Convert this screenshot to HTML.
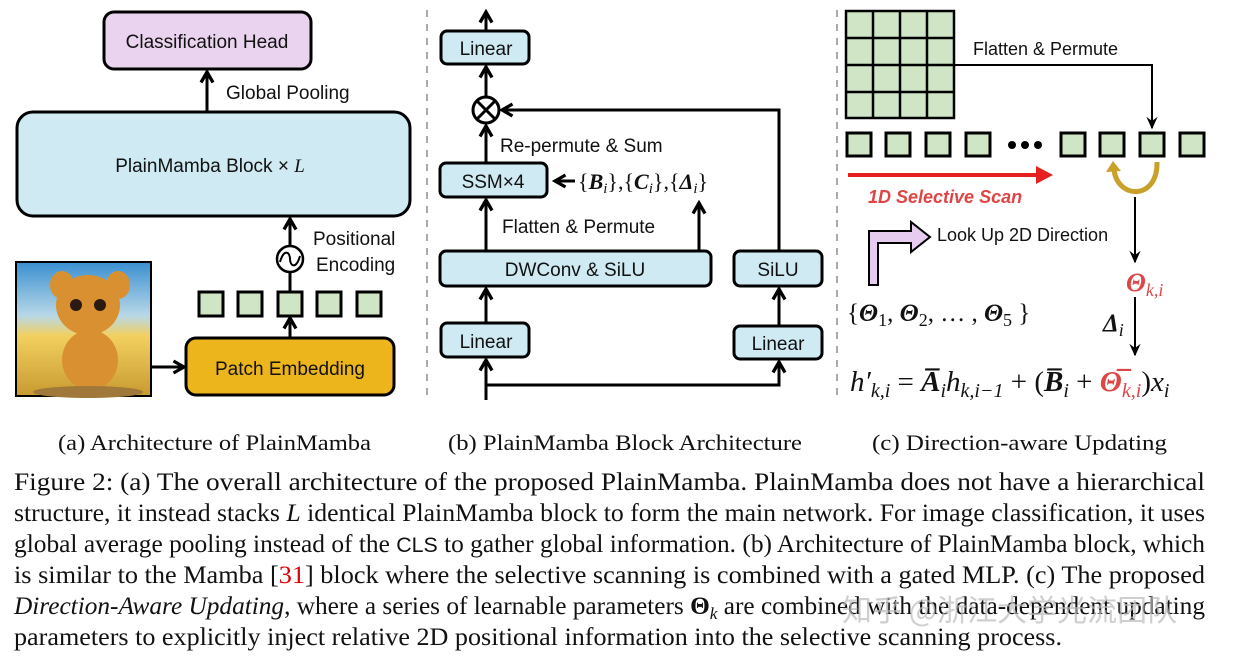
<!DOCTYPE html>
<html><head><meta charset="utf-8"><style>
html,body{margin:0;padding:0;background:#fff;width:1249px;height:660px;overflow:hidden}
svg{display:block}
.s{font-family:"Liberation Sans","DejaVu Sans",sans-serif;fill:#111}
.r{font-family:"Liberation Serif",serif;fill:#111}
</style></head><body>
<svg width="1249" height="660" viewBox="0 0 1249 660" xmlns="http://www.w3.org/2000/svg">
<defs>
<marker id="ah" viewBox="0 0 10 10" refX="8" refY="5" markerWidth="5" markerHeight="5" orient="auto"><path d="M1,1 L8,5 L1,9" fill="none" stroke="#000" stroke-width="2.2"/></marker>
<marker id="ah2" viewBox="0 0 10 10" refX="8" refY="5" markerWidth="7" markerHeight="7" orient="auto"><path d="M0,1 L9,5 L0,9 L3,5z" fill="#000"/></marker>
<linearGradient id="sky" x1="0" y1="0" x2="0" y2="1"><stop offset="0" stop-color="#3a8fd0"/><stop offset="0.4" stop-color="#b8d8e8"/><stop offset="0.55" stop-color="#f2d060"/><stop offset="1" stop-color="#c89a30"/></linearGradient>
</defs>
<g stroke="#aaa" stroke-width="2" stroke-dasharray="7,7"><line x1="427" y1="10" x2="427" y2="400"/><line x1="837" y1="10" x2="837" y2="400"/></g>

<!-- panel a -->
<g stroke="#000" stroke-width="3">
<rect x="104" y="12" width="207" height="57" rx="10" fill="#e9d3ef"/>
<rect x="17" y="112" width="393" height="104" rx="16" fill="#cfeaf3"/>
<rect x="186" y="338" width="208" height="57" rx="10" fill="#ecb51c"/>
<rect x="16" y="262" width="135" height="134" fill="url(#sky)" stroke-width="2"/>
</g>
<g fill="#d99030"><ellipse cx="88" cy="305" rx="32" ry="30"/><ellipse cx="62" cy="285" rx="12" ry="14"/><ellipse cx="118" cy="285" rx="12" ry="14"/><ellipse cx="90" cy="360" rx="28" ry="30"/></g>
<ellipse cx="88" cy="392" rx="55" ry="6" fill="#a0783a"/>
<circle cx="76" cy="305" r="6" fill="#2a1a10"/><circle cx="100" cy="305" r="6" fill="#2a1a10"/>
<g stroke="#000" stroke-width="3" fill="none">
<line x1="207" y1="111" x2="207" y2="72" marker-end="url(#ah)"/>
<line x1="290" y1="292" x2="290" y2="219" marker-end="url(#ah)"/>
<line x1="290" y1="338" x2="290" y2="318" marker-end="url(#ah)"/>
<line x1="151" y1="367" x2="184" y2="367" marker-end="url(#ah)"/>
<circle cx="290" cy="259" r="13" fill="#fff" stroke-width="2.5"/>
<path d="M280,262 C284,248 290,252 290,259 C290,266 296,270 300,256" stroke-width="2"/>
</g>
<g fill="#cfe5c6" stroke="#000" stroke-width="3">
<rect x="199" y="292" width="24" height="24"/><rect x="238" y="292" width="24" height="24"/><rect x="278" y="292" width="24" height="24"/><rect x="317" y="292" width="24" height="24"/><rect x="357" y="292" width="24" height="24"/>
</g>
<text class="s" x="207" y="48" font-size="19" text-anchor="middle">Classification Head</text>
<text class="s" x="226" y="99" font-size="19">Global Pooling</text>
<text class="s" x="210" y="172" font-size="19" text-anchor="middle">PlainMamba Block × <tspan font-family="Liberation Serif" font-style="italic">L</tspan></text>
<text class="s" x="313" y="245" font-size="19">Positional</text>
<text class="s" x="316" y="271" font-size="19">Encoding</text>
<text class="s" x="290" y="375" font-size="19" text-anchor="middle">Patch Embedding</text>

<!-- panel b -->
<g stroke="#000" stroke-width="3" fill="#cfeaf3">
<rect x="441" y="31" width="88" height="33" rx="6"/>
<rect x="440" y="163" width="107" height="34" rx="6"/>
<rect x="440" y="251" width="271" height="35" rx="6"/>
<rect x="441" y="323" width="88" height="34" rx="6"/>
<rect x="734" y="251" width="88" height="35" rx="6"/>
<rect x="734" y="326" width="88" height="33" rx="6"/>
</g>
<g stroke="#000" stroke-width="3" fill="none">
<line x1="486" y1="30" x2="486" y2="12" marker-end="url(#ah)"/>
<line x1="486" y1="97" x2="486" y2="67" marker-end="url(#ah)"/>
<circle cx="486" cy="110" r="13" fill="#fff"/>
<line x1="477" y1="101" x2="495" y2="119"/><line x1="495" y1="101" x2="477" y2="119"/>
<polyline points="779,250 779,110 502,110" marker-end="url(#ah)"/>
<line x1="486" y1="163" x2="486" y2="126" marker-end="url(#ah)"/>
<line x1="486" y1="250" x2="486" y2="200" marker-end="url(#ah)"/>
<line x1="699" y1="250" x2="699" y2="203" marker-end="url(#ah)"/>
<line x1="575" y1="181" x2="555" y2="181" marker-end="url(#ah)"/>
<line x1="486" y1="322" x2="486" y2="289" marker-end="url(#ah)"/>
<line x1="779" y1="325" x2="779" y2="289" marker-end="url(#ah)"/>
<line x1="486" y1="400" x2="486" y2="360" marker-end="url(#ah)"/>
<polyline points="486,385 779,385 779,362" marker-end="url(#ah)"/>
</g>
<text class="s" x="486" y="55" font-size="19" text-anchor="middle">Linear</text>
<text class="s" x="500" y="152" font-size="19">Re-permute &amp; Sum</text>
<text class="s" x="493" y="188" font-size="19" text-anchor="middle">SSM×4</text>
<text class="r" x="578" y="189" font-size="22">{<tspan font-weight="bold" font-style="italic">B</tspan><tspan font-style="italic" font-size="15" dy="4">i</tspan><tspan dy="-4">},{</tspan><tspan font-weight="bold" font-style="italic">C</tspan><tspan font-style="italic" font-size="15" dy="4">i</tspan><tspan dy="-4">},{</tspan><tspan font-weight="bold" font-style="italic">Δ</tspan><tspan font-style="italic" font-size="15" dy="4">i</tspan><tspan dy="-4">}</tspan></text>
<text class="s" x="502" y="233" font-size="19">Flatten &amp; Permute</text>
<text class="s" x="575" y="276" font-size="19" text-anchor="middle">DWConv &amp; SiLU</text>
<text class="s" x="486" y="348" font-size="19" text-anchor="middle">Linear</text>
<text class="s" x="778" y="276" font-size="19" text-anchor="middle">SiLU</text>
<text class="s" x="778" y="350" font-size="19" text-anchor="middle">Linear</text>

<!-- panel c -->
<g fill="#cfe5c6" stroke="#000" stroke-width="2.5">
<rect x="846" y="11" width="108" height="107"/>
<path d="M873,11V118M900,11V118M927,11V118M846,38H954M846,65H954M846,92H954" fill="none"/>
</g>
<g fill="#cfe5c6" stroke="#000" stroke-width="3">
<rect x="847" y="133" width="24" height="23"/><rect x="886" y="133" width="24" height="23"/><rect x="926" y="133" width="24" height="23"/><rect x="966" y="133" width="24" height="23"/>
<rect x="1061" y="133" width="24" height="23"/><rect x="1100" y="133" width="24" height="23"/><rect x="1140" y="133" width="24" height="23"/><rect x="1180" y="133" width="24" height="23"/>
</g>
<circle cx="1012" cy="145" r="4"/><circle cx="1025" cy="145" r="4"/><circle cx="1038" cy="145" r="4"/>
<g stroke="#000" stroke-width="2" fill="none">
<polyline points="955,65 1152,65 1152,128" marker-end="url(#ah2)"/>
<line x1="1135" y1="197" x2="1135" y2="262" marker-end="url(#ah2)"/>
<line x1="1135" y1="297" x2="1135" y2="355" marker-end="url(#ah2)"/>
</g>
<line x1="848" y1="175" x2="1040" y2="175" stroke="#e62020" stroke-width="4"/>
<path d="M1036,166 L1053,175 L1036,184z" fill="#e62020"/>
<path d="M1157,162 C1158,200 1118,200 1114,170" fill="none" stroke="#c9a02a" stroke-width="5"/>
<path d="M1106,172 L1113,161 L1121,171z" fill="#c9a02a"/>
<path d="M869,285 V231 H911 V222 L930,237 L911,252 V243 H878 V285z" fill="#e6cdef" stroke="#000" stroke-width="2"/>
<text class="s" x="973" y="55" font-size="18">Flatten &amp; Permute</text>
<text x="868" y="203" font-size="18" font-weight="bold" font-style="italic" fill="#e04545" font-family="Liberation Sans,sans-serif">1D Selective Scan</text>
<text class="s" x="937" y="241" font-size="18">Look Up 2D Direction</text>
<text x="1126" y="291" font-size="26" font-family="Liberation Serif,serif" fill="#e04545"><tspan font-weight="bold" font-style="italic">Θ</tspan><tspan font-style="italic" font-size="18" dy="5">k,i</tspan></text>
<text class="r" x="1103" y="331" font-size="25"><tspan font-weight="bold" font-style="italic">Δ</tspan><tspan font-style="italic" font-size="18" dy="5">i</tspan></text>
<text class="r" x="847" y="321" font-size="25">{<tspan font-weight="bold" font-style="italic">Θ</tspan><tspan font-size="18" dy="5">1</tspan><tspan dy="-5">, </tspan><tspan font-weight="bold" font-style="italic">Θ</tspan><tspan font-size="18" dy="5">2</tspan><tspan dy="-5">, … , </tspan><tspan font-weight="bold" font-style="italic">Θ</tspan><tspan font-size="18" dy="5">5</tspan><tspan dy="-5"> }</tspan></text>
<text class="r" x="850" y="391" font-size="29" font-style="italic">h′<tspan font-size="20" dy="6">k,i</tspan><tspan dy="-6" font-style="normal"> = </tspan><tspan font-weight="bold">A̅</tspan><tspan font-size="20" dy="6">i</tspan><tspan dy="-6">h</tspan><tspan font-size="20" dy="6">k,i−1</tspan><tspan dy="-6" font-style="normal"> + (</tspan><tspan font-weight="bold">B̅</tspan><tspan font-size="20" dy="6">i</tspan><tspan dy="-6" font-style="normal"> + </tspan><tspan fill="#e04545" font-weight="bold">Θ̅</tspan><tspan fill="#e04545" font-size="20" dy="6">k,i</tspan><tspan dy="-6" font-style="normal">)</tspan>x<tspan font-size="20" dy="6">i</tspan></text>

<!-- captions -->
<text class="r" x="58" y="450" font-size="22" textLength="313" lengthAdjust="spacingAndGlyphs">(a) Architecture of PlainMamba</text>
<text class="r" x="448" y="450" font-size="22" textLength="354" lengthAdjust="spacingAndGlyphs">(b) PlainMamba Block Architecture</text>
<text class="r" x="872" y="450" font-size="22" textLength="295" lengthAdjust="spacingAndGlyphs">(c) Direction-aware Updating</text>
<g font-size="25">
<text class="r" x="14" y="490" textLength="1191" lengthAdjust="spacingAndGlyphs">Figure 2: (a) The overall architecture of the proposed PlainMamba. PlainMamba does not have a hierarchical</text>
<text class="r" x="14" y="521" textLength="1191" lengthAdjust="spacingAndGlyphs">structure, it instead stacks <tspan font-style="italic">L</tspan> identical PlainMamba block to form the main network. For image classification, it uses</text>
<text class="r" x="14" y="552" textLength="1191" lengthAdjust="spacingAndGlyphs">global average pooling instead of the <tspan font-family="Liberation Sans" font-size="21">CLS</tspan> to gather global information. (b) Architecture of PlainMamba block, which</text>
<text class="r" x="14" y="583" textLength="1191" lengthAdjust="spacingAndGlyphs">is similar to the Mamba [<tspan fill="#d00">31</tspan>] block where the selective scanning is combined with a gated MLP. (c) The proposed</text>
<text class="r" x="14" y="614" textLength="1191" lengthAdjust="spacingAndGlyphs"><tspan font-style="italic">Direction-Aware Updating</tspan>, where a series of learnable parameters <tspan font-weight="bold">Θ</tspan><tspan font-style="italic" font-size="17" dy="5">k</tspan><tspan dy="-5"> are combined with the data-dependent updating</tspan></text>
<text class="r" x="14" y="645" textLength="1048" lengthAdjust="spacingAndGlyphs">parameters to explicitly inject relative 2D positional information into the selective scanning process.</text>
</g>
<text x="842" y="621" font-size="30" fill="#bbb" opacity="0.7" font-family="Noto Sans CJK SC,sans-serif">知乎 @浙江大学光流团队</text>
</svg>
</body></html>
